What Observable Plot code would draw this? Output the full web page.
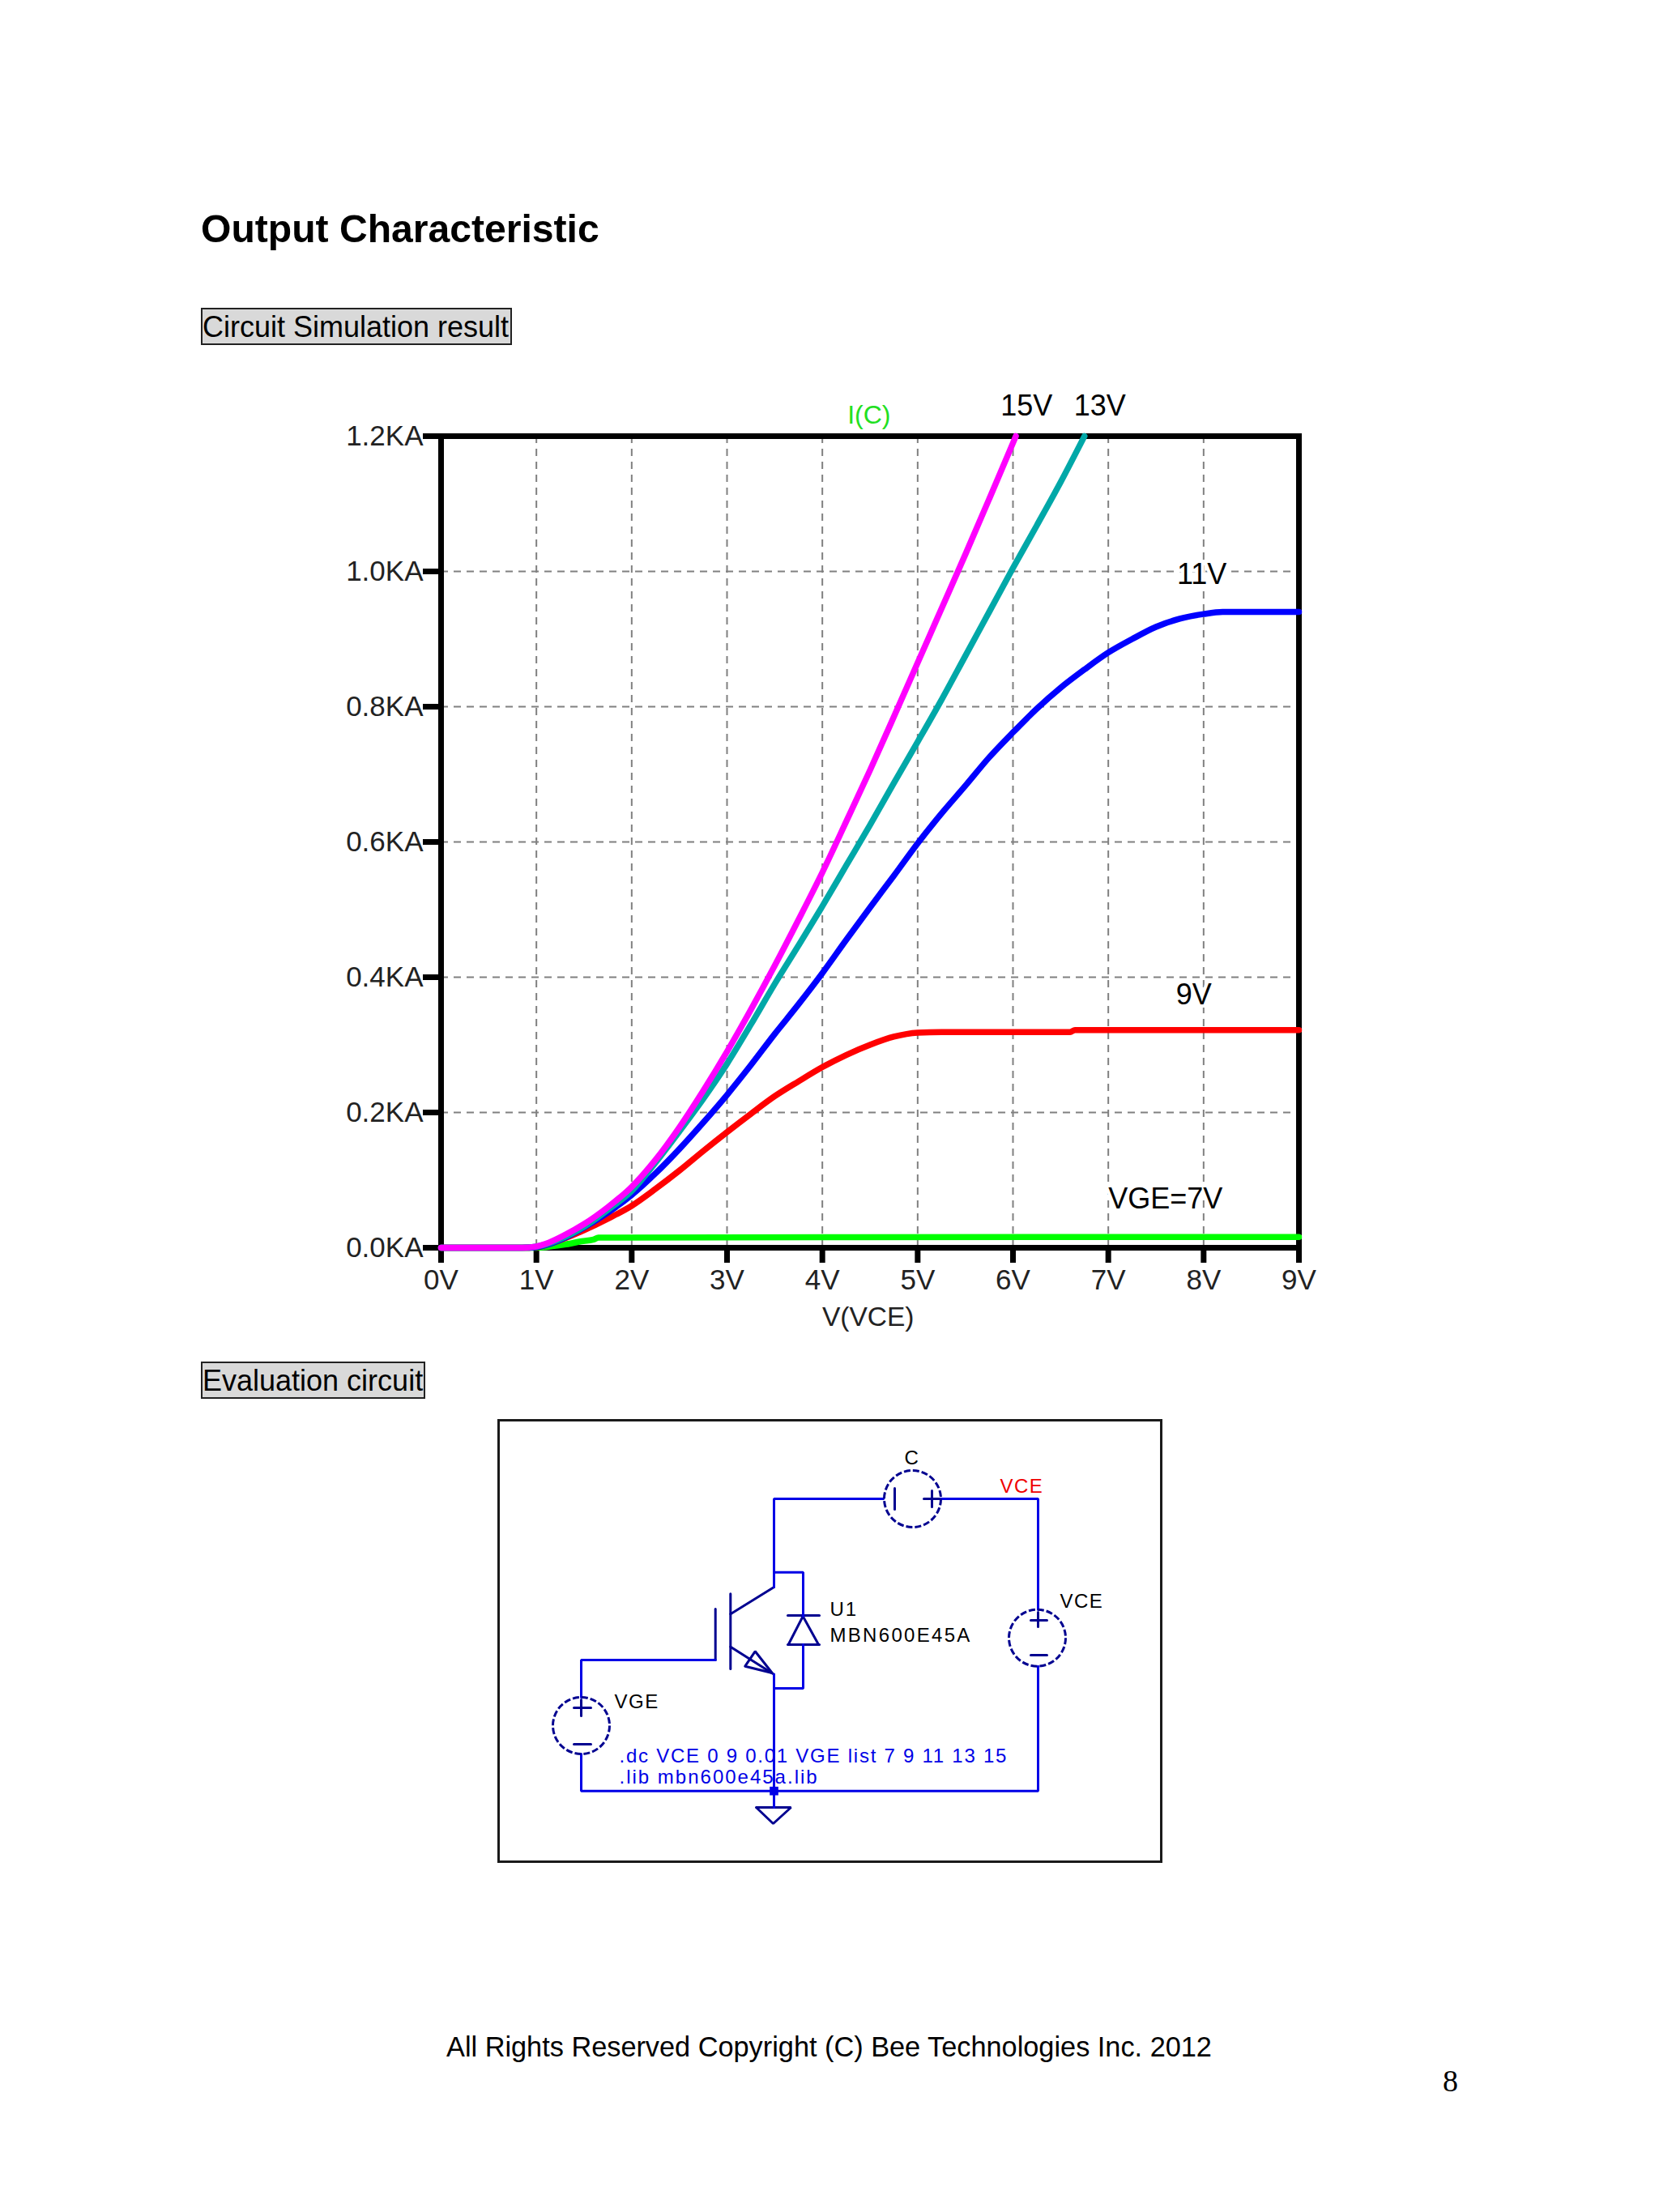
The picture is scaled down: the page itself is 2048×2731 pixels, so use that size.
<!DOCTYPE html>
<html>
<head>
<meta charset="utf-8">
<script src="https://cdn.jsdelivr.net/npm/d3@7"></script>
<script src="https://cdn.jsdelivr.net/npm/@observablehq/plot@0.6"></script>
<style>
html,body{margin:0;padding:0;background:#fff;}
body{position:relative;width:2048px;height:2731px;overflow:hidden;font-family:"Liberation Sans",Arial,sans-serif;color:#000;}
.abs{position:absolute;white-space:nowrap;line-height:1;}
.tag{box-sizing:border-box;background:#d9d9d9;border:2px solid #222;font-size:36px;overflow:hidden;}
#chart,#circuit{position:absolute;}
svg{display:block;}
</style>
</head>
<body>
<div class="abs" style="left:248px;top:258px;font-size:48.1px;font-weight:bold;">Output Characteristic</div>
<div class="abs tag" style="left:248px;top:380px;width:384px;height:46px;padding:4px 0 0 0;">Circuit Simulation result</div>
<div id="chart" style="left:400px;top:480px;"></div>
<div class="abs tag" style="left:248px;top:1681px;width:277px;height:46px;padding:4px 0 0 0;">Evaluation circuit</div>
<div id="circuit" style="left:611px;top:1749px;"></div>
<div class="abs" style="left:551px;top:2510px;font-size:34.3px;">All Rights Reserved Copyright (C) Bee Technologies Inc. 2012</div>
<div class="abs" style="left:1781px;top:2550px;font-size:38px;font-family:'Liberation Serif',serif;">8</div>
<script>
// ---- Chart values -------------------------------------------------------
const xTicks = [0,1,2,3,4,5,6,7,8,9];
const yTicks = [0,0.2,0.4,0.6,0.8,1.0,1.2];

const vce7  = [0,0.9,1.1,1.2,1.35,1.45,1.6,1.65,9];
const ic7   = [0,0,0.001,0.003,0.006,0.009,0.012,0.015,0.016];

const vce9  = [0,0.85,1,1.1,1.3,1.5,1.75,2,2.25,2.5,2.75,3,3.25,3.5,3.75,4,4.25,4.5,4.75,5,5.25,6,6.6,6.65,7,8,9];
const ic9   = [0,0,0.001,0.004,0.014,0.026,0.043,0.062,0.087,0.114,0.143,0.171,0.198,0.224,0.246,0.267,0.285,0.3,0.312,0.318,0.319,0.319,0.319,0.322,0.322,0.322,0.322];

const vce11 = [0,0.85,1,1.1,1.3,1.5,1.75,2,2.25,2.5,2.75,3,3.25,3.5,3.75,4,4.25,4.5,4.75,5,5.25,5.5,5.75,6,6.25,6.5,6.75,7,7.25,7.5,7.75,8,8.2,8.5,9];
const ic11  = [0,0,0.001,0.004,0.015,0.03,0.052,0.078,0.11,0.146,0.185,0.226,0.27,0.316,0.36,0.406,0.455,0.503,0.55,0.598,0.642,0.683,0.725,0.762,0.797,0.828,0.855,0.88,0.9,0.918,0.93,0.937,0.94,0.94,0.94];

const vce13 = [0,0.85,1,1.1,1.3,1.5,1.75,2,2.25,2.5,2.75,3,3.25,3.5,3.75,4,4.25,4.5,4.75,5,5.25,5.5,5.75,6,6.25,6.5,6.75];
const ic13  = [0,0,0.002,0.005,0.016,0.031,0.056,0.084,0.126,0.172,0.22,0.272,0.33,0.39,0.447,0.505,0.565,0.625,0.687,0.748,0.81,0.875,0.94,1.005,1.068,1.132,1.2];

const vce15 = [0,0.85,1,1.1,1.3,1.5,1.75,2,2.25,2.5,2.75,3,3.25,3.5,3.75,4,4.25,4.5,4.75,5,5.25,5.5,5.75,6,6.03];
const ic15  = [0,0,0.002,0.006,0.019,0.035,0.06,0.09,0.13,0.178,0.232,0.29,0.352,0.417,0.485,0.555,0.63,0.706,0.785,0.865,0.945,1.025,1.107,1.19,1.2];

const seriesColors = ["#00ff00","#ff0000","#0000ff","#00a8a8","#ff00ff"];

const labelText = ["15V","13V","11V","9V","VGE=7V"];
const labelX    = [5.87,6.64,7.72,7.71,7.0];
const labelY    = [1.2305,1.2305,0.982,0.36,0.058];

// ---- Schematic content (schematic units) --------------------------------
const wires = [
  [[475,97],[340,97],[340,206]],
  [[340,187.7],[376,187.7],[376,242]],
  [[376,277],[376,331],[340,331]],
  [[340,313.7],[340,457.7]],
  [[267.7,296],[102,296],[102,342]],
  [[102,412],[102,457.7],[666,457.7],[666,303.7]],
  [[546,97],[666,97],[666,233.7]],
  [[340,457.7],[340,478]]
];
const symbols = [
  [[267.7,233],[267.7,296]],
  [[286.3,214.3],[286.3,307]],
  [[286.3,239.3],[340,206]],
  [[286.3,279.7],[340,313.7]],
  [[304.3,303.7],[316.7,285.3],[337.7,312],[304.3,303.7]],
  [[357,241],[396,241]],
  [[375.7,242],[357.7,277],[395,277],[375.7,242]],
  [[357,277],[396,277]],
  [[318,478],[361,478],[339,498],[318,478]],
  [[93,355],[114,355]],[[102,345],[102,365]],[[93,400],[114,400]],
  [[657,247],[677,247]],[[666,237],[666,255]],[[657,290],[677,290]],
  [[489,84],[489,110]],[[525,97],[547,97]],[[535,87],[535,107]]
];
const sources = [[102,377],[665,268.7],[511,97]];
const junctions = [[340,457.7]];
const schematicText = ["C","VCE","U1","MBN600E45A","VGE","VCE",".dc VCE 0 9 0.01 VGE list 7 9 11 13 15",".lib mbn600e45a.lib"];
const schematicTextX = [501,619,409,409,143,693,149,149];
const schematicTextY = [54,89,241,273,355,231,422.7,448];
const schematicTextFill = ["#000","#f00000","#000","#000","#000","#000","#0000e6","#0000e6"];
const schematicSpacing = [0,1.5,2,2.3,1.5,1.5,1.75,2];

// ---- Chart --------------------------------------------------------------
const font = "'Liberation Sans',Arial,sans-serif";
const asRows = (xs, ys) => xs.map((x, i) => ({x, y: ys[i]}));
const curves = [[vce7,ic7],[vce9,ic9],[vce11,ic11],[vce13,ic13],[vce15,ic15]];
const annotations = labelText.map((t, i) => ({t, x: labelX[i], y: labelY[i]}));

const chart = Plot.plot({
  width: 1300, height: 1200,
  marginLeft: 144, marginRight: 97, marginTop: 58, marginBottom: 140,
  style: {fontFamily: font, fontSize: "35px", background: "transparent", color: "#222", overflow: "visible"},
  x: {domain: [0, 9], label: null},
  y: {domain: [0, 1.2], label: null},
  marks: [
    Plot.ruleX(xTicks.slice(1, -1), {stroke: "#808080", strokeWidth: 2, strokeDasharray: "9,7"}),
    Plot.ruleY(yTicks.slice(1, -1), {stroke: "#808080", strokeWidth: 2, strokeDasharray: "9,7"}),
    Plot.frame({stroke: "#000", strokeWidth: 7}),
    Plot.axisX({ticks: xTicks, tickFormat: d => d + "V", tickSize: 19, tickPadding: 8, strokeWidth: 7, stroke: "#000", fill: "#222"}),
    Plot.axisY({ticks: yTicks, tickFormat: d => d.toFixed(1) + "KA", tickSize: 22, tickPadding: 0, strokeWidth: 7, stroke: "#000", fill: "#222"}),
    Plot.text(annotations, {x: "x", y: "y", text: "t", textAnchor: "start", lineAnchor: "bottom", fontSize: 36, fill: "#000", stroke: "#fff", strokeWidth: 8}),
    Plot.text(["I(C)"], {x: () => 4.49, y: () => 1.218, textAnchor: "middle", lineAnchor: "bottom", fontSize: 32, fill: "#22e022"}),
    Plot.text(["V(VCE)"], {x: () => 4.48, y: () => -0.116, textAnchor: "middle", lineAnchor: "bottom", fontSize: 33.5, fill: "#222"}),
    ...curves.map(([xs, ys], i) => Plot.line(asRows(xs, ys), {x: "x", y: "y", stroke: seriesColors[i], strokeWidth: 7.5, strokeLinejoin: "round", curve: "monotone-x"}))
  ]
});
document.getElementById("chart").appendChild(chart);

// ---- Schematic ----------------------------------------------------------
const pathMark = (p, stroke, w) => Plot.line(p, {x: d => d[0], y: d => d[1], stroke, strokeWidth: w, strokeLinejoin: "miter", curve: "linear"});
const schematicRows = schematicText.map((t, i) => ({t, x: schematicTextX[i], y: schematicTextY[i], fill: schematicTextFill[i]}));

const circuit = Plot.plot({
  width: 826, height: 553,
  marginLeft: 4, marginRight: 4, marginTop: 4, marginBottom: 4,
  style: {fontFamily: font, fontSize: "24px", background: "transparent", overflow: "visible"},
  x: {domain: [0, 818], axis: null},
  y: {domain: [0, 545], axis: null, reverse: true},
  marks: [
    Plot.frame({stroke: "#1a1a1a", strokeWidth: 3}),
    ...symbols.map(p => pathMark(p, "#000090", 3)),
    ...wires.map(p => pathMark(p, "#0000e6", 3)),
    Plot.dot(sources, {x: d => d[0], y: d => d[1], r: 35, stroke: "#000090", strokeWidth: 3, strokeDasharray: "8,3", fill: "none"}),
    Plot.dot(junctions, {x: d => d[0], y: d => d[1], symbol: "square", r: 6, fill: "#0000e6"}),
    Plot.text(schematicRows, {x: "x", y: "y", text: "t", fill: "fill", textAnchor: "start", lineAnchor: "bottom", fontSize: 24})
  ]
});
document.getElementById("circuit").appendChild(circuit);
d3.select(circuit).selectAll("text").each(function () {
  const i = schematicText.indexOf(this.textContent);
  if (i >= 0) d3.select(this).style("letter-spacing", schematicSpacing[i] + "px");
});
</script>
</body>
</html>
